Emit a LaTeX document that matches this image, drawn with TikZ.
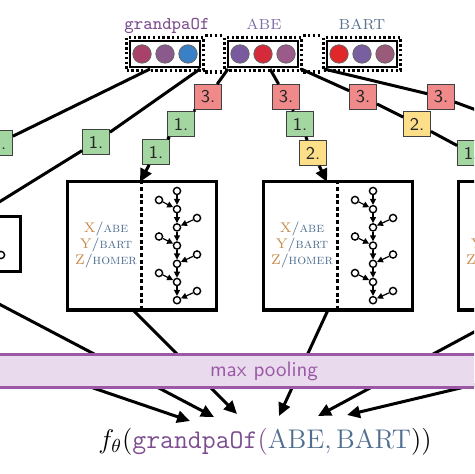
\documentclass[tikz,border=0pt]{standalone}
\usepackage{fix-cm}
\usepackage{amsmath}
\usepackage{amssymb}
\usepackage{tikz}
\usepackage{xcolor}
\usetikzlibrary{arrows.meta}

\definecolor{gpurple}{HTML}{7D4E8F}
\definecolor{abecol}{HTML}{7E6BA8}
\definecolor{bartcol}{HTML}{587292}
\definecolor{varcol}{HTML}{C98A4B}
\definecolor{entcol}{HTML}{4F6E90}
\definecolor{tagred}{HTML}{F08A8A}
\definecolor{taggreen}{HTML}{A4D6A2}
\definecolor{tagyellow}{HTML}{FDDF8A}
\definecolor{poolfill}{HTML}{EADAEE}
\definecolor{pooldraw}{HTML}{9A58A5}
\definecolor{e11}{HTML}{A8426A}
\definecolor{e12}{HTML}{8A5A8C}
\definecolor{e13}{HTML}{3A80C6}
\definecolor{e21}{HTML}{7A5A9E}
\definecolor{e22}{HTML}{D42A3A}
\definecolor{e23}{HTML}{9A5A8A}
\definecolor{e31}{HTML}{E02828}
\definecolor{e32}{HTML}{7860A0}
\definecolor{e33}{HTML}{9A5A7A}

\tikzset{
    link/.style = {line width=1.5pt, black},
    link-arrow/.style = {link, -{Triangle[length=6.5pt, width=6pt]}},
    query-box/.style = {draw, line width=1.1pt, rectangle, minimum width=35pt, minimum height=13pt, inner sep=0pt},
    query-frame/.style = {draw, line width=1.6pt, dash pattern=on 1.2pt off 1.2pt, rectangle, minimum width=38.5pt, minimum height=16.5pt, inner sep=0pt},
    query-dots/.style = {line width=1.6pt, dash pattern=on 1.2pt off 1.2pt},
    emb-dot/.style = {circle, draw=black!60, thin, minimum size=9.2pt, inner sep=0pt},
    query-label/.style = {anchor=base, font=\fontsize{7.3}{8}\selectfont},
    rule-tag/.style = {draw=black!75, thin, rectangle, minimum width=13.5pt, minimum height=12.5pt, inner sep=0pt, font=\sffamily\fontsize{9}{9}\selectfont, text=black!85},
    proof-box/.style = {draw, line width=1.5pt, rectangle, minimum width=74.5pt, minimum height=64pt, inner sep=0pt},
    split-line/.style = {line width=1.5pt, dash pattern=on 2pt off 1.3pt},
    subst/.style = {font=\fontsize{7}{8}\selectfont, align=center, text=entcol},
    tree-node/.style = {circle, draw, line width=0.7pt, fill=white, minimum size=3.6pt, inner sep=0pt},
    tree-edge/.style = {line width=0.6pt, -{Triangle[length=3pt, width=3pt]}},
    pool-band/.style = {fill=poolfill, draw=pooldraw, line width=1.6pt, rectangle, minimum width=280pt, minimum height=16pt, font=\sffamily\fontsize{10.5}{12}\selectfont, text=pooldraw},
}

\newcommand{\substlist}{{\color{varcol}X}/\textsc{abe}\\{\color{varcol}Y}/\textsc{bart}\\{\color{varcol}Z}/\textsc{homer}}

% proof tree drawn from the left edge of a proof box
\newcommand{\drawproof}[2]{%
  \begin{scope}[shift={(#1,0)}]
    \foreach \i in {0,...,6}
      \node[tree-node] (#2-t\i) at (110,{191+18.2*\i}) {};
    \foreach \i in {0,...,5} {
      \pgfmathtruncatemacro\nxt{\i+1}
      \draw[tree-edge] (#2-t\i) -- (#2-t\nxt);
    }
    \foreach \k in {0,1,2} {
      \pgfmathtruncatemacro\up{2*\k+1}
      \pgfmathtruncatemacro\dn{2*\k+2}
      \node[tree-node] (#2-l\k) at (92,{200+36.5*\k}) {};
      \node[tree-node] (#2-r\k) at (130,{218+36.5*\k}) {};
      \draw[tree-edge] (#2-l\k) -- (#2-t\up);
      \draw[tree-edge] (#2-r\k) -- (#2-t\dn);
    }
  \end{scope}}

\begin{document}
\begin{tikzpicture}[x=0.5pt, y=-0.5pt]
\useasboundingbox (0,0) rectangle (474,474);
\clip (0,0) rectangle (474,474);

% query
\node[query-label, text=gpurple, font=\ttfamily\fontsize{9}{10}\selectfont] (rel-name) at (167,30) {grandpaOf};
\node[query-label, text=abecol] (abe-name) at (264,30) {ABE};
\node[query-label, text=bartcol] (bart-name) at (362,30) {BART};
\foreach \name/\cx in {rel/165, abe/263, bart/362} {
    \node[query-frame] (\name-frame) at (\cx,54) {};
    \node[query-box] (\name-box) at (\cx,54) {};
}
\draw[query-dots] (rel-frame.north east) -- (abe-frame.north west);
\draw[query-dots] (rel-frame.south east) -- (abe-frame.south west);
\draw[query-dots] (abe-frame.north east) -- (bart-frame.north west);
\draw[query-dots] (abe-frame.south east) -- (bart-frame.south west);
\foreach \cx/\col in {142/e11, 165/e12, 188/e13, 240/e21, 263/e22, 286/e23, 339/e31, 362/e32, 385/e33}
    \node[emb-dot, fill=\col] (emb-\cx) at (\cx,54) {};

% proof boxes
\node[proof-box, minimum width=40pt, minimum height=27.5pt] (proof0) at (-20,244.5) {};
\node[tree-node] (proof0-leaf) at (1,255) {};
\node[proof-box] (proof1) at (141.5,246) {};
\node[proof-box] (proof2) at (337.5,246) {};
\node[proof-box] (proof3) at (532.5,246) {};
\foreach \p in {proof1, proof2, proof3}
    \draw[split-line] (\p.north) -- (\p.south);
\node[subst] (subst1) at (106,245) {\substlist};
\node[subst] (subst2) at (302,245) {\substlist};
\node[subst] (subst3) at (497,245) {\substlist};
\drawproof{67}{a}
\drawproof{263}{b}
\drawproof{458}{c}

% rule choices
\node[rule-tag, fill=taggreen] (tagA) at (-1,143) {1.};
\node[rule-tag, fill=taggreen] (tagB) at (96,142) {1.};
\node[rule-tag, fill=tagred] (tagL3) at (208,97) {3.};
\node[rule-tag, fill=taggreen] (tagL1) at (181,124) {1.};
\node[rule-tag, fill=taggreen] (tagL0) at (156,152) {1.};
\node[rule-tag, fill=tagred] (tagM3) at (286,97) {3.};
\node[rule-tag, fill=taggreen] (tagM1) at (300,124) {1.};
\node[rule-tag, fill=tagyellow] (tagM2) at (313,153) {2.};
\node[rule-tag, fill=tagred] (tagR3) at (363,97) {3.};
\node[rule-tag, fill=tagyellow] (tagR2) at (417,124) {2.};
\node[rule-tag, fill=taggreen] (tagR1) at (471,153) {1.};
\node[rule-tag, fill=tagred] (tagS3) at (441,97) {3.};

\coordinate (outA) at (150,69);
\coordinate (outB) at (200,69);
\coordinate (outL) at (228,69);
\coordinate (outM) at (270,69);
\coordinate (outR) at (301,69);
\coordinate (outS) at (324,69);
\coordinate (endA) at (-60,172);
\coordinate (endS) at (560,141);
\coordinate (inB) at (-25,217);
\coordinate (in1) at (140,182);
\coordinate (in2) at (327,182);
\coordinate (in3) at (525,182);

\draw[link] (outA) -- (tagA) -- (endA);
\draw[link-arrow] (outB) -- (tagB) -- (inB);
\draw[link-arrow] (outL) -- (tagL3) -- (tagL1) -- (tagL0) -- (in1);
\draw[link-arrow] (outM) -- (tagM3) -- (tagM1) -- (tagM2) -- (in2);
\draw[link-arrow] (outR) -- (tagR3) -- (tagR2) -- (tagR1) -- (in3);
\draw[link] (outS) -- (tagS3) -- (endS);

% pooling over all proofs
\coordinate (from0) at (-150,305);
\coordinate (from1) at (-60,273);
\coordinate (from2) at (133,310);
\coordinate (from3) at (328,310);
\coordinate (from4) at (515,310);
\coordinate (from5) at (788,310);
\coordinate (hit0) at (190,421);
\coordinate (hit1) at (214,417);
\coordinate (hit2) at (237,414);
\coordinate (hit3) at (279,416);
\coordinate (hit4) at (318,416);
\coordinate (hit5) at (347,415);
\foreach \i in {0,...,5}
    \draw[link-arrow] (from\i) -- (hit\i);
\node[pool-band] (pool) at (264,371) {max pooling};

\node[anchor=base, font=\fontsize{13.5}{15}\selectfont] (goal) at (265,448)
    {$f_\theta(\textcolor{gpurple}{\texttt{grandpaOf}(}\textcolor{entcol}{\mathrm{ABE}, \mathrm{BART}}))$};
\end{tikzpicture}
\end{document}
